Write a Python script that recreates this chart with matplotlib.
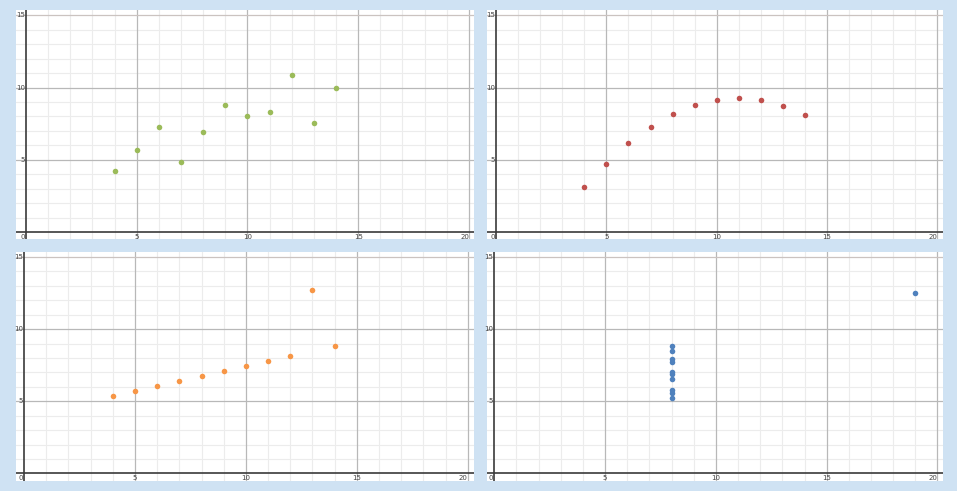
import numpy as np
import matplotlib
matplotlib.use("Agg")
import matplotlib.pyplot as plt

# Anscombe's quartet
x_123 = [10, 8, 13, 9, 11, 14, 6, 4, 12, 7, 5]
y_1 = [8.04, 6.95, 7.58, 8.81, 8.33, 9.96, 7.24, 4.26, 10.84, 4.82, 5.68]
y_2 = [9.14, 8.14, 8.74, 8.77, 9.26, 8.10, 6.13, 3.10, 9.13, 7.26, 4.74]
y_3 = [7.46, 6.77, 12.74, 7.11, 7.81, 8.84, 6.08, 5.39, 8.15, 6.42, 5.73]
x_4 = [8, 8, 8, 8, 8, 8, 8, 19, 8, 8, 8]
y_4 = [6.58, 5.76, 7.71, 8.84, 8.47, 7.04, 5.25, 12.50, 5.56, 7.91, 6.89]

x_ticks = [0, 5, 10, 15, 20]
y_ticks = [5, 10, 15]

series = [(x_123, y_1, '#9bbb59'),
          (x_123, y_2, '#c0504d'),
          (x_123, y_3, '#f79646'),
          (x_4, y_4, '#4f81bd')]

W, H = 957, 491
fig = plt.figure(figsize=(W / 100, H / 100), dpi=100)
fig.patch.set_facecolor('#cfe2f3')

# white panel rectangles in pixels: left, top, right, bottom
panels = [(16, 10, 474, 239),
          (487, 10, 943, 239),
          (16, 252, 474, 481),
          (487, 252, 943, 481)]
# data limits per panel (axis area fills the white panel)
limits = [((-0.45, 20.23), (-0.48, 15.37)),
          ((-0.41, 20.25), (-0.48, 15.37)),
          ((-0.36, 20.28), (-0.52, 15.35)),
          ((-0.33, 20.25), (-0.52, 15.35))]

for (xs, ys, col), (l, t, r, b), (xl, yl) in zip(series, panels, limits):
    ax = fig.add_axes([l / W, 1 - b / H, (r - l) / W, (b - t) / H])
    ax.set_facecolor('white')
    ax.set_xlim(*xl)
    ax.set_ylim(*yl)
    for s in ax.spines.values():
        s.set_visible(False)
    ax.set_xticks([])
    ax.set_yticks([])

    # minor grid every 1, major every 5
    for v in range(1, 21):
        if v % 5:
            ax.axvline(v, color='#ececec', lw=0.8, zorder=0)
    for v in range(1, 16):
        if v % 5:
            ax.axhline(v, color='#ececec', lw=0.8, zorder=0)
    for v in x_ticks[1:]:
        ax.axvline(v, color='#b8b8b8', lw=0.9, zorder=1)
    for v in y_ticks:
        ax.axhline(v, color='#b8b8b8' if v < 15 else '#cbc3c0', lw=0.9, zorder=1)
    ax.axvline(0, color='#3a3a3a', lw=1.2, zorder=2)
    ax.axhline(0, color='#3a3a3a', lw=1.2, zorder=2)

    # tick labels drawn inside the panel
    for v in x_ticks:
        ax.text(v - (0.15 if v == 0 else 0), -0.12, str(v), fontsize=5, color='#444444',
                ha='center' if v < 20 else 'right', va='top', zorder=3)
    for v in y_ticks:
        ax.text(-0.05, v, str(v), fontsize=5, color='#444444',
                ha='right', va='center', zorder=3)

    ax.scatter(xs, ys, s=16, color=col, linewidths=0, zorder=4)

fig.savefig('out.png', dpi=100, facecolor=fig.get_facecolor())
